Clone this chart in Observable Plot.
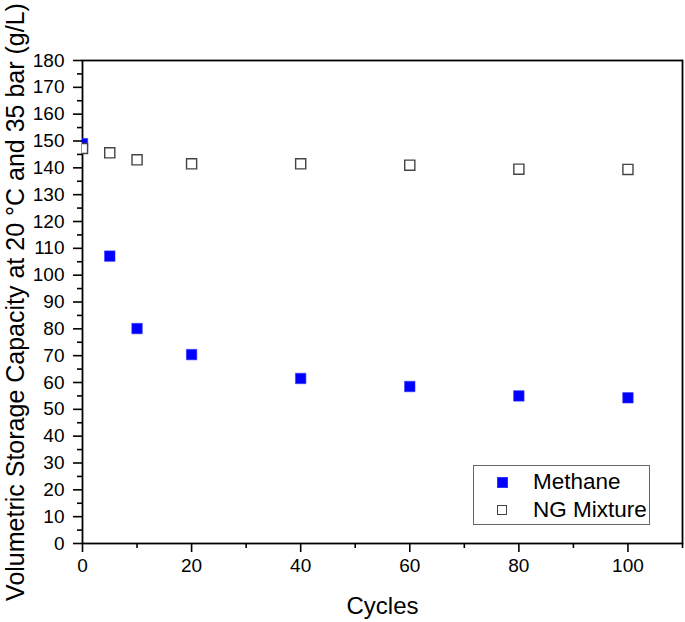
<!DOCTYPE html>
<html>
<head>
<meta charset="utf-8">
<script src="https://cdn.jsdelivr.net/npm/d3@7"></script>
<script src="https://cdn.jsdelivr.net/npm/@observablehq/plot@0.6"></script>
<style>
  html, body { margin: 0; padding: 0; background: #fff; }
  #wrap { position: relative; width: 685px; height: 622px; font-family: "Liberation Sans", Arial, sans-serif; }
  #legend { position: absolute; left: 473px; top: 465px; width: 177px; height: 60px; border: 1px solid #666; background: #fff; box-sizing: border-box; }
  .row { position: absolute; left: 0; height: 28px; display: flex; align-items: center; font-size: 22.5px; color: #000; }
  .sw { position: absolute; left: 23px; width: 11px; height: 11px; box-sizing: border-box; }
  .lab { position: absolute; left: 59px; white-space: nowrap; }
</style>
</head>
<body>
<div id="wrap"></div>
<script>
const cycles = [0, 5, 10, 20, 40, 60, 80, 100];
const methane = [149.0, 107.1, 80.1, 70.4, 61.5, 58.5, 55.0, 54.3];
const ngMixture = [147.2, 145.6, 143.0, 141.5, 141.5, 141.0, 139.5, 139.4];
const seriesNames = ["Methane", "NG Mixture"];
const xMajor = [0, 20, 40, 60, 80, 100];
const xMinor = [10, 30, 50, 70, 90, 110];
const yMajor = d3.range(0, 181, 10);
const yMinor = d3.range(5, 180, 10);

const methaneData = cycles.map((c, i) => ({cycle: c, value: methane[i]}));
const ngData = cycles.map((c, i) => ({cycle: c, value: ngMixture[i]}));
const noLabel = () => "";

const chart = Plot.plot({
  width: 685,
  height: 622,
  marginLeft: 82,
  marginRight: 3,
  marginTop: 60,
  marginBottom: 79,
  style: {fontFamily: "'Liberation Sans', Arial, sans-serif", background: "#fff", color: "#000"},
  x: {domain: [0, 110]},
  y: {domain: [0, 180]},
  marks: [
    Plot.axisX({ticks: xMinor, tickSize: 5, tickFormat: noLabel, stroke: "#000", strokeWidth: 1.6, label: null}),
    Plot.axisX({ticks: xMajor, tickSize: 9, tickPadding: 6, fontSize: 19, stroke: "#000", strokeWidth: 1.6,
      label: "Cycles", labelAnchor: "center", labelArrow: "none", labelOffset: 70}),
    Plot.axisY({ticks: yMinor, tickSize: 5, tickFormat: noLabel, stroke: "#000", strokeWidth: 1.6, label: null}),
    Plot.axisY({ticks: yMajor, tickSize: 9, tickPadding: 9, fontSize: 19, stroke: "#000", strokeWidth: 1.6,
      label: "Volumetric Storage Capacity at 20 °C and 35 bar (g/L)", labelAnchor: "center", labelArrow: "none", labelOffset: 76}),
    Plot.frame({stroke: "#000", strokeWidth: 1.8}),
    Plot.dot(methaneData, {x: "cycle", y: "value", symbol: "square", r: 5.9, fill: "#0000ff", stroke: "#3333ff", strokeWidth: 0.6, clip: true}),
    Plot.dot(ngData, {x: "cycle", y: "value", symbol: "square", r: 5.7, fill: "#fff", stroke: "#444", strokeWidth: 1.4, clip: true})
  ]
});

chart.querySelectorAll("g[aria-label='x-axis label'] text").forEach(t => {
  t.setAttribute("font-size", "24");
  t.style.fontSize = "24px";
});
chart.querySelectorAll("g[aria-label='y-axis label'] text").forEach(t => {
  t.setAttribute("font-size", "25");
  t.style.fontSize = "25px";
});

const wrap = document.getElementById("wrap");
wrap.appendChild(chart);

const legend = document.createElement("div");
legend.id = "legend";
const styles = [
  {bg: "#0000ff", border: "1px solid #3333ff"},
  {bg: "#fff", border: "1.4px solid #444"}
];
seriesNames.forEach((name, i) => {
  const row = document.createElement("div");
  row.className = "row";
  row.style.top = (2 + i * 28) + "px";
  const sw = document.createElement("div");
  sw.className = "sw";
  sw.style.background = styles[i].bg;
  sw.style.border = styles[i].border;
  if (i === 1) { sw.style.width = "10px"; sw.style.height = "10px"; }
  const lab = document.createElement("span");
  lab.className = "lab";
  lab.textContent = name;
  row.appendChild(sw);
  row.appendChild(lab);
  legend.appendChild(row);
});
wrap.appendChild(legend);
</script>
</body>
</html>
